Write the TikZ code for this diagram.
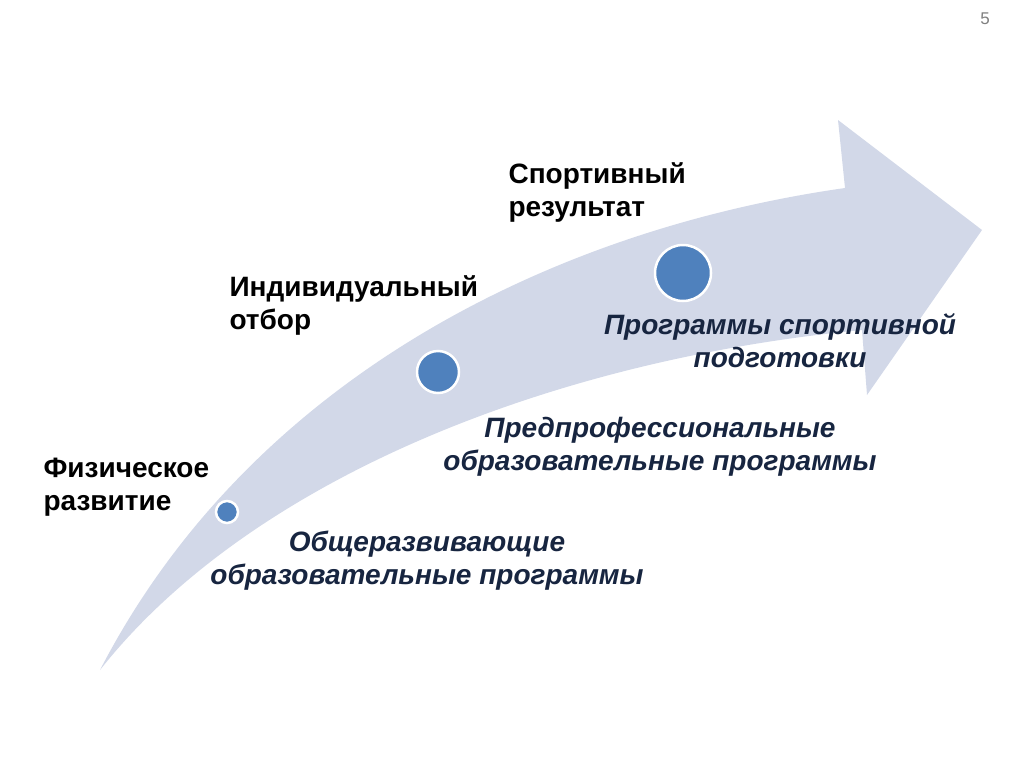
\documentclass[tikz,border=0pt]{standalone}
\usepackage{fontspec}
\setmainfont{Liberation Sans}
\begin{document}
\begin{tikzpicture}[x=1pt,y=-1pt,
  dot/.style={circle,fill=dotblue,draw=white,line width=2.5pt,inner sep=0pt},
  lab/.style={anchor=north west,align=left,font=\bfseries\fontsize{28}{33}\selectfont,text=black},
  prog/.style={align=center,font=\bfseries\itshape\fontsize{28}{33}\selectfont,text=navytext}]
\definecolor{band}{RGB}{210,216,232}
\definecolor{dotblue}{RGB}{79,129,189}
\definecolor{navytext}{RGB}{23,37,64}
\useasboundingbox (0,0) rectangle (1024,768);
\fill[band] (100,670) .. controls (250,380) and (550,230) .. (845,188)
  -- (838,120) -- (982,230) -- (867,395) -- (862,330)
  .. controls (550,360) and (250,480) .. (100,670);
\node[dot,minimum size=22pt] (d1) at (227,512) {};
\node[dot,minimum size=42pt] (d2) at (438,372) {};
\node[dot,minimum size=56pt] (d3) at (683,273) {};
\node[lab] (l1) at (40,455) {Физическое\\развитие};
\node[lab] (l2) at (226,272) {Индивидуальный\\отбор};
\node[lab] (l3) at (505,159) {Спортивный\\результат};
\node[prog] (p1) at (427,561) {Общеразвивающие\\образовательные программы};
\node[prog] (p2) at (660,447) {Предпрофессиональные\\образовательные программы};
\node[prog] (p3) at (780,341) {Программы спортивной\\подготовки};
\node[font=\fontsize{17}{20}\selectfont,text=gray] (pn) at (985,19) {5};
\end{tikzpicture}
\end{document}
